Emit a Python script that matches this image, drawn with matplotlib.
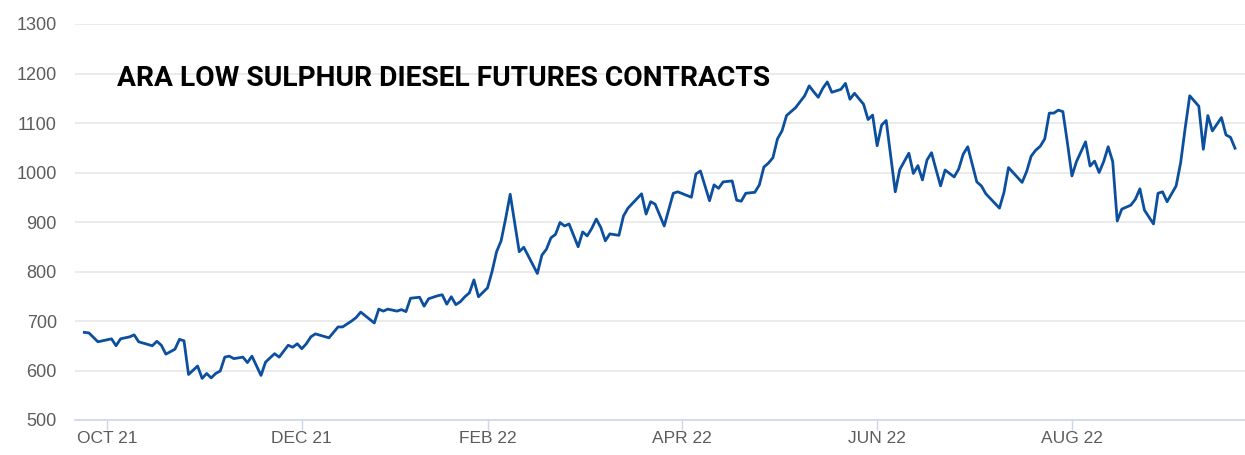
import matplotlib
matplotlib.use("Agg")
import matplotlib.pyplot as plt
import numpy as np

# ARA low sulphur diesel futures, trading days
dates = [
    "2021-09-24", "2021-09-27", "2021-09-29", "2021-10-04", "2021-10-05", "2021-10-06",
    "2021-10-08", "2021-10-11", "2021-10-12", "2021-10-15", "2021-10-18", "2021-10-19",
    "2021-10-20", "2021-10-22", "2021-10-25", "2021-10-26", "2021-10-27", "2021-10-29",
    "2021-11-01", "2021-11-02", "2021-11-03", "2021-11-04", "2021-11-05", "2021-11-08",
    "2021-11-09", "2021-11-10", "2021-11-12", "2021-11-15", "2021-11-16", "2021-11-18",
    "2021-11-19", "2021-11-23", "2021-11-24", "2021-11-26", "2021-11-29", "2021-11-30",
    "2021-12-01", "2021-12-02", "2021-12-03", "2021-12-06", "2021-12-09", "2021-12-13",
    "2021-12-14", "2021-12-15", "2021-12-16", "2021-12-17", "2021-12-20", "2021-12-23",
    "2021-12-24", "2021-12-29", "2021-12-30", "2022-01-04", "2022-01-05", "2022-01-06",
    "2022-01-07", "2022-01-11", "2022-01-12", "2022-01-13", "2022-01-14", "2022-01-17",
    "2022-01-18", "2022-01-19", "2022-01-20", "2022-01-21", "2022-01-24", "2022-01-25",
    "2022-01-26", "2022-01-27", "2022-01-28", "2022-02-01", "2022-02-02", "2022-02-03",
    "2022-02-04", "2022-02-07", "2022-02-08", "2022-02-10", "2022-02-11", "2022-02-16",
    "2022-02-17", "2022-02-18", "2022-02-21", "2022-02-22", "2022-02-23", "2022-02-24",
    "2022-02-25", "2022-03-01", "2022-03-02", "2022-03-03", "2022-03-04", "2022-03-07",
    "2022-03-08", "2022-03-09", "2022-03-10", "2022-03-14", "2022-03-15", "2022-03-16",
    "2022-03-21", "2022-03-22", "2022-03-23", "2022-03-24", "2022-03-28", "2022-03-29",
    "2022-03-30", "2022-03-31", "2022-04-05", "2022-04-06", "2022-04-07", "2022-04-11",
    "2022-04-12", "2022-04-13", "2022-04-14", "2022-04-18", "2022-04-19", "2022-04-20",
    "2022-04-21", "2022-04-25", "2022-04-26", "2022-04-27", "2022-04-28", "2022-04-29",
    "2022-05-02", "2022-05-03", "2022-05-04", "2022-05-06", "2022-05-09", "2022-05-10",
    "2022-05-11", "2022-05-12", "2022-05-13", "2022-05-16", "2022-05-17", "2022-05-18",
    "2022-05-20", "2022-05-23", "2022-05-24", "2022-05-25", "2022-05-27", "2022-05-30",
    "2022-05-31", "2022-06-01", "2022-06-02", "2022-06-03", "2022-06-07", "2022-06-08",
    "2022-06-10", "2022-06-13", "2022-06-14", "2022-06-15", "2022-06-16", "2022-06-17",
    "2022-06-20", "2022-06-21", "2022-06-22", "2022-06-24", "2022-06-27", "2022-06-28",
    "2022-06-29", "2022-07-01", "2022-07-04", "2022-07-05", "2022-07-08", "2022-07-11",
    "2022-07-12", "2022-07-15", "2022-07-18", "2022-07-19", "2022-07-20", "2022-07-21",
    "2022-07-22", "2022-07-25", "2022-07-26", "2022-07-27", "2022-07-28", "2022-07-29",
    "2022-08-01", "2022-08-02", "2022-08-04", "2022-08-05", "2022-08-08", "2022-08-09",
    "2022-08-10", "2022-08-11", "2022-08-12", "2022-08-15", "2022-08-16", "2022-08-18",
    "2022-08-19", "2022-08-22", "2022-08-23", "2022-08-25", "2022-08-26", "2022-08-29",
    "2022-08-30", "2022-09-01", "2022-09-02", "2022-09-05", "2022-09-06", "2022-09-08",
    "2022-09-09", "2022-09-12", "2022-09-13", "2022-09-15", "2022-09-16", "2022-09-19",
    "2022-09-20",
]
prices = [
    677, 676, 658, 664, 650, 664,
    668, 672, 658, 650, 659, 651,
    633, 643, 663, 660, 592, 609,
    584, 594, 585, 594, 599, 627,
    629, 624, 627, 616, 629, 590,
    617, 634, 627, 651, 647, 654,
    644, 654, 668, 674, 666, 688,
    688, 694, 700, 707, 718, 696,
    724, 720, 724, 720, 723, 719,
    746, 748, 730, 745, 748, 751,
    753, 734, 749, 733, 739, 749,
    757, 783, 749, 767, 800, 840,
    862, 907, 956, 840, 849, 796,
    833, 845, 868, 875, 899, 892,
    896, 850, 880, 872, 887, 906,
    889, 862, 876, 873, 912, 928,
    957, 916, 941, 936, 892, 925,
    958, 961, 950, 997, 1003, 943,
    975, 968, 981, 983, 944, 942,
    958, 960, 975, 1011, 1019, 1030,
    1068, 1084, 1115, 1131, 1143, 1155,
    1175, 1163, 1152, 1170, 1183, 1162,
    1168, 1180, 1148, 1160, 1138, 1107,
    1116, 1054, 1096, 1105, 961, 1006,
    1039, 998, 1014, 985, 1025, 1040,
    1006, 973, 1005, 991, 1007, 1037,
    1052, 981, 973, 957, 928, 960,
    1010, 980, 1002, 1033, 1045, 1053,
    1068, 1120, 1120, 1126, 1123, 1060,
    993, 1022, 1062, 1013, 1023, 1000,
    1022, 1052, 1022, 902, 926, 934,
    946, 967, 924, 896, 958, 961,
    941, 973, 1020, 1090, 1155, 1134,
    1047, 1115, 1084, 1111, 1076, 1071,
    1049,
]

tick_dates = ["2021-10-01", "2021-12-01", "2022-02-01", "2022-04-01", "2022-06-01", "2022-08-01"]
tick_labels = ["OCT 21", "DEC 21", "FEB 22", "APR 22", "JUN 22", "AUG 22"]
y_ticks = [500, 600, 700, 800, 900, 1000, 1100, 1200, 1300]
title = "ARA LOW SULPHUR DIESEL FUTURES CONTRACTS"

# the chart's x axis runs in trading sessions, not calendar days
holidays = ["2021-12-27", "2021-12-28", "2022-01-03"]
origin = np.datetime64("2021-10-01")


def session(d):
    return np.busday_count(origin, np.array(d, dtype="datetime64[D]"), holidays=holidays)


x = session(dates)
xt = session(tick_dates)

W, H = 1245, 455
fig = plt.figure(figsize=(W / 100, H / 100), dpi=100)
ax = fig.add_axes([75 / W, 1 - 420 / H, 1170 / W, 396 / H])

ax.plot(x, prices, color="#0b4f9e", lw=2.0, solid_joinstyle="round")

ax.set_ylim(500, 1300)
ax.set_xlim(-7.06, 251.2)
ax.set_yticks(y_ticks)
ax.set_yticklabels([str(v) for v in y_ticks])
ax.set_xticks(xt)
ax.set_xticklabels(tick_labels)

ax.grid(axis="y", color="#e6e6e6", lw=1.1)
ax.set_axisbelow(True)
for s in ["top", "right", "left"]:
    ax.spines[s].set_visible(False)
ax.spines["bottom"].set_color("#ccd6eb")
ax.spines["bottom"].set_linewidth(1.2)

ax.tick_params(axis="y", length=0, pad=13, labelsize=13, labelcolor="#5c5c5c")
ax.tick_params(axis="x", length=7, width=1, color="#ccd6eb", pad=1,
               labelsize=12.5, labelcolor="#5c5c5c")
for lab in ax.get_xticklabels() + ax.get_yticklabels():
    lab.set_family("Liberation Sans")

t = fig.text(117 / W, 1 - 78 / H, title, fontsize=22, fontweight="bold",
             family="Roboto", color="black", va="center", ha="left")
fig.canvas.draw()
w = t.get_window_extent().width
t.set_fontsize(22 * 650 / w)

fig.savefig("out.png", dpi=100)
